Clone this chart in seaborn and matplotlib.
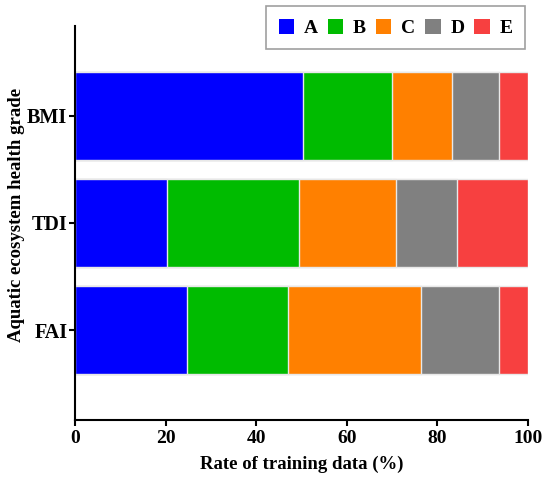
import numpy as np
import pandas as pd
import seaborn as sns
import matplotlib.pyplot as plt
from matplotlib.patches import Patch

# indices (top to bottom) and grade shares (%)
indices = ['BMI', 'TDI', 'FAI']
grades = ['A', 'B', 'C', 'D', 'E']
grade_a = [50.3, 20.3, 24.7]
grade_b = [19.7, 29.2, 22.4]
grade_c = [13.3, 21.4, 29.2]
grade_d = [10.3, 13.5, 17.4]
grade_e = [6.4, 15.6, 6.3]
colors = ['#0000FF', '#00BB00', '#FF8000', '#808080', '#F74040']

sns.set_style('ticks')
plt.rcParams['font.family'] = ['Liberation Serif', 'DejaVu Serif']
plt.rcParams['font.weight'] = 'bold'
for k in ['text.color', 'axes.labelcolor', 'xtick.color', 'ytick.color']:
    plt.rcParams[k] = 'black'

df = pd.DataFrame({'A': grade_a, 'B': grade_b, 'C': grade_c, 'D': grade_d, 'E': grade_e},
                  index=indices)
cum = df.cumsum(axis=1)

fig = plt.figure(figsize=(5.5, 4.87), dpi=100)
ax = fig.add_axes([0.1364, 0.1376, 0.8236, 0.809])

# stacked bars: draw cumulative totals from the last grade to the first
for g, c in reversed(list(zip(grades, colors))):
    sns.barplot(x=cum[g].values, y=indices, orient='h', color=c, width=0.82,
                saturation=1, edgecolor='#E8E8E8', linewidth=1.0, ax=ax)

ax.set_xlim(0, 100)
ax.set_ylim(2.84, -0.84)
ax.set_xticks([0, 20, 40, 60, 80, 100])
ax.tick_params(axis='both', labelsize=14, width=1.5, length=4, color='black')
ax.tick_params(axis='y', pad=1.5, labelsize=14.5)
for lab in ax.get_xticklabels() + ax.get_yticklabels():
    lab.set_fontweight('bold')
ax.set_xlabel('Rate of training data (%)', fontsize=13.5, fontweight='bold', labelpad=6)
ax.set_ylabel('Aquatic ecosystem health grade', fontsize=13.5, fontweight='bold')
ax.yaxis.set_label_coords(-0.11, 0.52)
ax.spines['top'].set_visible(False)
ax.spines['right'].set_visible(False)
for s in ['left', 'bottom']:
    ax.spines[s].set_linewidth(1.5)
    ax.spines[s].set_color('black')

handles = [Patch(facecolor=c, edgecolor='none') for c in colors]
leg = fig.legend(handles, grades, loc='upper right', bbox_to_anchor=(525 / 550, 1 - 6 / 487),
                 ncol=5, prop={'weight': 'bold', 'size': 14},
                 handlelength=0.8, handleheight=0.8, handletextpad=0.5, columnspacing=0.5,
                 fancybox=False, frameon=True, borderpad=0.65, borderaxespad=0)
leg.get_frame().set_edgecolor('#888888')
leg.get_frame().set_linewidth(1.2)

fig.savefig('out.png', dpi=100)
